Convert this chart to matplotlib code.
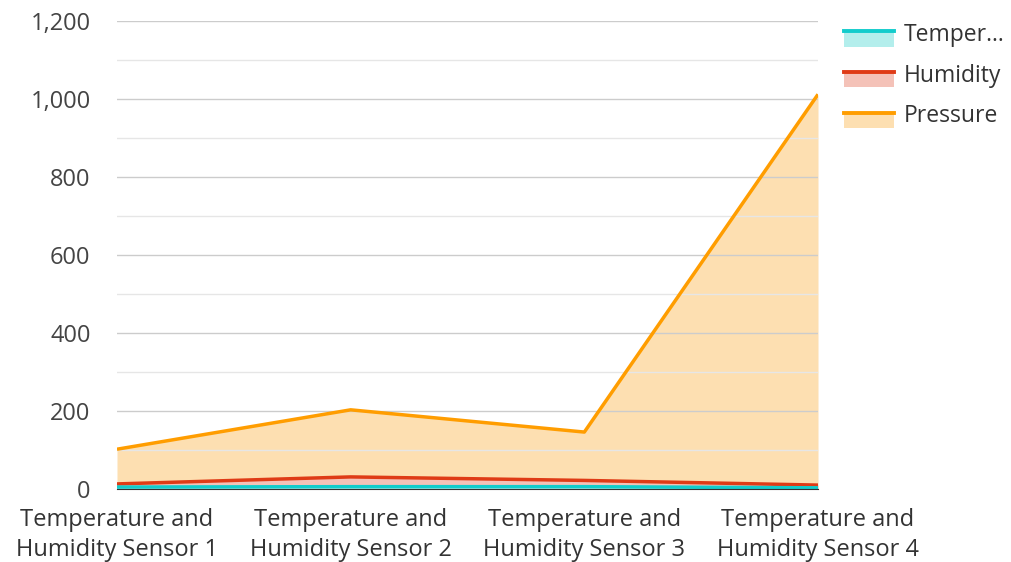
import matplotlib.pyplot as plt
from matplotlib.patches import Rectangle
from matplotlib.lines import Line2D
from matplotlib.legend_handler import HandlerBase

plt.rcParams['font.family'] = ['Open Sans', 'DejaVu Sans']

# Data
sensors = ["Temperature and\nHumidity Sensor 1", "Temperature and\nHumidity Sensor 2",
           "Temperature and\nHumidity Sensor 3", "Temperature and\nHumidity Sensor 4"]
temperature = [5, 6, 6, 3]
humidity = [13, 31, 22, 10]
pressure = [102, 203, 146, 1012]

names = ["Temper...", "Humidity", "Pressure"]
line_colors = ["#12cccc", "#df3b16", "#ff9d00"]
fill_colors = ["#b3eeec", "#f4c2b8", "#fddfb1"]


class LineOverFill(HandlerBase):
    def __init__(self, lc, fc):
        super().__init__()
        self.lc, self.fc = lc, fc

    def create_artists(self, legend, orig, xd, yd, w, h, fontsize, trans):
        top = yd + h * 0.5 + 1
        r = Rectangle((xd, top - 11), w, 11, facecolor=self.fc,
                      edgecolor="none", transform=trans)
        l = Line2D([xd, xd + w], [top, top], color=self.lc, lw=2.8,
                   transform=trans)
        return [r, l]


fig = plt.figure(figsize=(10.12, 5.62), dpi=100)
ax = fig.add_axes([0.1156, 0.1299, 0.6927, 0.8327])

x = list(range(len(sensors)))
series = [temperature, humidity, pressure]
order = [2, 1, 0]
for i in order:
    ax.fill_between(x, 0, series[i], color=fill_colors[i], lw=0, zorder=1 + (2 - i))
for i in order:
    ax.plot(x, series[i], color=line_colors[i], lw=2.5, zorder=5 + (2 - i),
            solid_capstyle="butt")

ax.set_xlim(0, 3)
ax.set_ylim(0, 1200)
ax.set_yticks(range(0, 1201, 200))
ax.set_yticks(range(100, 1200, 200), minor=True)
ax.set_yticklabels([f"{v:,}" for v in range(0, 1201, 200)])
ax.grid(axis="y", which="major", color="#cccccc", lw=1, zorder=0)
ax.grid(axis="y", which="minor", color="#e6e6e6", lw=1, zorder=0)
ax.set_axisbelow(False)
ax.set_xticks(x)
ax.set_xticklabels(sensors, linespacing=1.3)
for s in ["top", "right", "left"]:
    ax.spines[s].set_visible(False)
ax.spines["bottom"].set_color("#333333")
ax.spines["bottom"].set_zorder(10)
ax.tick_params(axis="y", which="both", length=0, pad=19, labelsize=17, labelcolor="#444444")
ax.tick_params(axis="x", length=0, pad=14, labelsize=17, labelcolor="#333333")

handles = [Rectangle((0, 0), 1, 1) for _ in names]
hmap = {h: LineOverFill(lc, fc) for h, lc, fc in zip(handles, line_colors, fill_colors)}
fig.legend(handles, names, handler_map=hmap, loc="upper left",
           bbox_to_anchor=(0.814, 0.996), frameon=False, fontsize=16.5,
           handlelength=2.15, handletextpad=0.42, labelspacing=0.73,
           labelcolor="#333333")

fig.savefig("out.png", dpi=100)
